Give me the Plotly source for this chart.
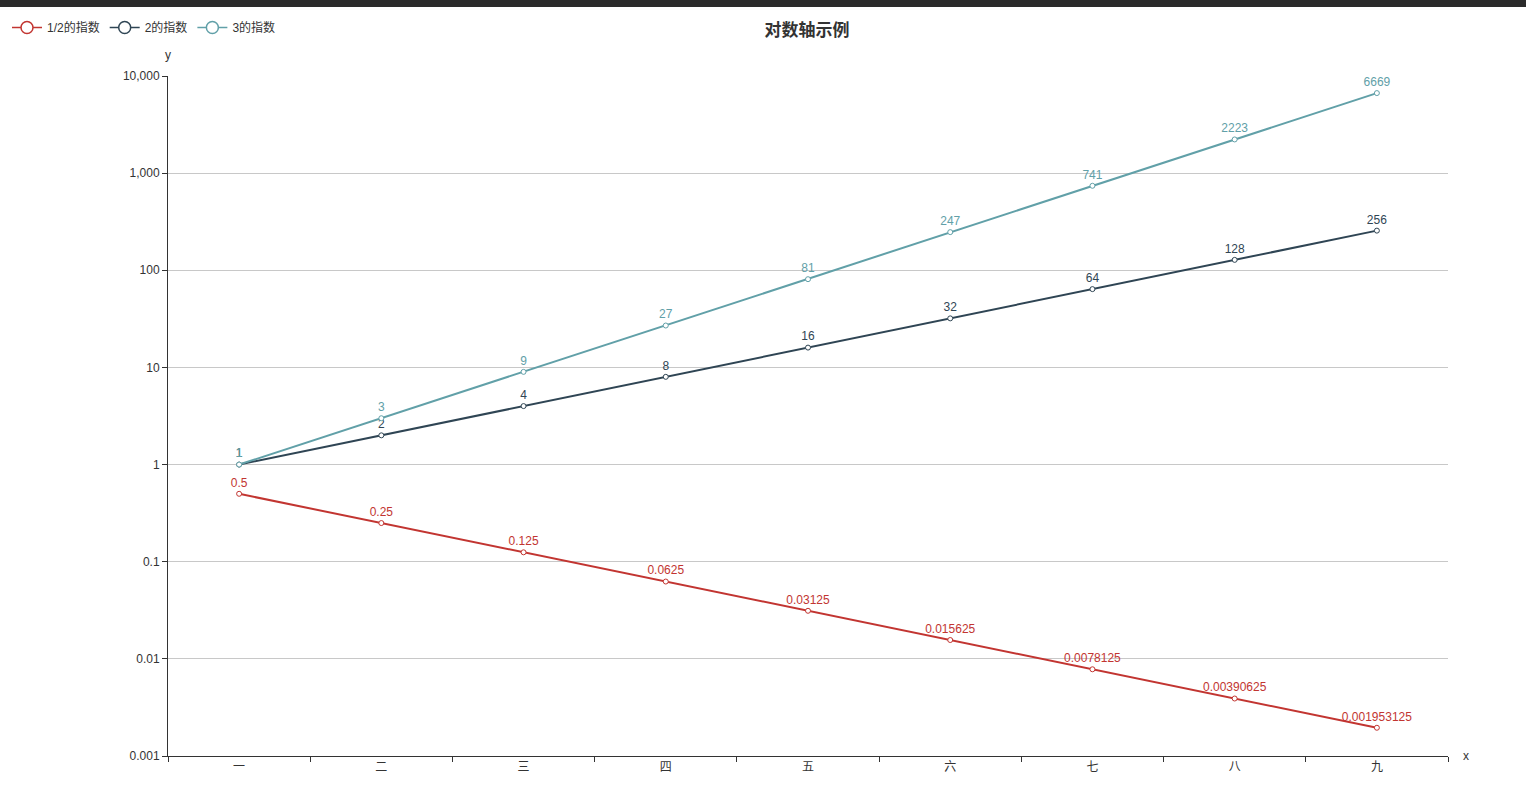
import plotly.graph_objects as go

# categories on the x axis
categories = ["一", "二", "三", "四", "五", "六", "七", "八", "九"]

# series values
half_powers = [0.5, 0.25, 0.125, 0.0625, 0.03125, 0.015625, 0.0078125, 0.00390625, 0.001953125]
two_powers = [1, 2, 4, 8, 16, 32, 64, 128, 256]
three_powers = [1, 3, 9, 27, 81, 247, 741, 2223, 6669]

# y tick labels
y_tickvals = [0.001, 0.01, 0.1, 1, 10, 100, 1000, 10000]
y_ticktext = ["0.001", "0.01", "0.1", "1", "10", "100", "1,000", "10,000"]

FONT = "Liberation Sans, Noto Sans CJK SC, sans-serif"
W, H = 1526, 804
L, R, T, B = 168, 78, 76, 48
PW, PH = W - L - R, H - T - B


# one line series with hollow markers and value labels above the points
def make_series(name, values, color):
    return go.Scatter(
        x=categories,
        y=values,
        name=name,
        legendgroup=name,
        showlegend=False,
        mode="lines+markers+text",
        line=dict(color=color, width=2),
        marker=dict(symbol="circle", size=5, color="white",
                    line=dict(color=color, width=1)),
        text=[str(v) for v in values],
        textposition="top center",
        textfont=dict(color=color, size=12, family=FONT),
        cliponaxis=False,
    )


# legend-only entry with the bigger hollow circle
def make_legend_item(name, color):
    return go.Scatter(
        x=[None], y=[None], name=name, legendgroup=name,
        mode="lines+markers",
        line=dict(color=color, width=1.5),
        marker=dict(symbol="circle", size=12, color="white",
                    line=dict(color=color, width=1.5)),
    )


series = [("1/2的指数", half_powers, "#c23531"),
          ("2的指数", two_powers, "#2f4554"),
          ("3的指数", three_powers, "#61a0a8")]

fig = go.Figure()
for name, values, color in series:
    fig.add_trace(make_series(name, values, color))
for name, values, color in series:
    fig.add_trace(make_legend_item(name, color))

fig.update_layout(
    width=W,
    height=H,
    margin=dict(l=L, r=R, t=T, b=B, autoexpand=False),
    plot_bgcolor="white",
    paper_bgcolor="white",
    font=dict(family=FONT, size=12, color="#333"),
    title=dict(text="<b>对数轴示例</b>", x=807 / W, xanchor="center",
               y=1 - 30 / H, yanchor="middle",
               font=dict(size=17, color="#333", family=FONT)),
    showlegend=True,
    legend=dict(orientation="h", xref="container", yref="container",
                x=7 / W, xanchor="left", y=1 - 13 / H, yanchor="top",
                font=dict(size=12, color="#333", family=FONT),
                itemwidth=30, tracegroupgap=0, bgcolor="rgba(0,0,0,0)"),
    xaxis=dict(
        type="category",
        categoryorder="array",
        categoryarray=categories,
        range=[-0.5, 8.5],
        showgrid=False,
        showline=True,
        linecolor="#333",
        linewidth=1,
        ticks="outside",
        tickson="boundaries",
        ticklen=5,
        tickcolor="#333",
        zeroline=False,
        tickfont=dict(size=12, color="#333"),
    ),
    yaxis=dict(
        type="log",
        range=[-3, 4],
        tickvals=y_tickvals,
        ticktext=y_ticktext,
        showgrid=True,
        gridcolor="#c8c8c8",
        showline=True,
        linecolor="#333",
        linewidth=1,
        ticks="outside",
        ticklen=5,
        tickcolor="#333",
        zeroline=False,
        tickfont=dict(size=12, color="#333"),
    ),
    annotations=[
        dict(text="y", xref="paper", yref="paper", x=0, y=1, yshift=21,
             showarrow=False, xanchor="center", yanchor="middle",
             font=dict(size=12, color="#333")),
        dict(text="x", xref="paper", yref="paper", x=1, y=0, xshift=18,
             showarrow=False, xanchor="center", yanchor="middle",
             font=dict(size=12, color="#333")),
    ],
    shapes=[
        # dark strip along the top edge of the page
        dict(type="rect", xref="paper", yref="paper",
             x0=-L / PW, x1=1 + R / PW, y0=1 + (T - 7) / PH, y1=1 + T / PH,
             fillcolor="#2b2b2b", line=dict(width=0), layer="above"),
    ],
)

fig.write_html("out.html", config={"displayModeBar": False},
               post_script="document.body.style.margin='0';")
